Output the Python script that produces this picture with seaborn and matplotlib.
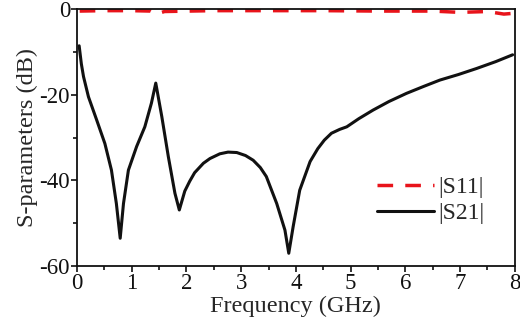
import matplotlib
matplotlib.use("Agg")
import matplotlib.pyplot as plt
import seaborn as sns
import pandas as pd
from matplotlib.ticker import MultipleLocator

freq_s21 = [0.04, 0.08, 0.12, 0.21, 0.36, 0.51, 0.63, 0.72, 0.79, 0.85, 0.94, 1.09, 1.24, 1.36, 1.44,
            1.55, 1.67, 1.79, 1.87, 1.97, 2.06, 2.15, 2.31, 2.43, 2.61, 2.76, 2.92, 3.08, 3.22, 3.35,
            3.46, 3.65, 3.80, 3.87, 3.95, 4.07, 4.26, 4.40, 4.52, 4.65, 4.80, 4.93, 5.15, 5.41,
            5.70, 6.02, 6.33, 6.63, 6.97, 7.30, 7.65, 7.96]
s21 = [-8.6, -12.8, -15.8, -20.5, -25.9, -31.4, -37.6, -45.4, -53.5, -45.4, -37.6, -32.1, -27.5,
       -22.0, -17.3, -25.1, -34.5, -43.0, -46.9, -42.5, -40.2, -38.2, -36.0, -34.9, -33.8, -33.4,
       -33.5, -34.2, -35.3, -37.0, -39.1, -45.4, -51.6, -57.0, -50.8, -42.3, -35.6, -32.6, -30.6,
       -29.0, -28.1, -27.5, -25.6, -23.6, -21.6, -19.7, -18.1, -16.6, -15.3, -13.9, -12.3, -10.7]

freq_s11 = [0.05, 0.5, 1.0, 1.35, 1.45, 1.6, 2.5, 3.5, 4.5, 5.5, 6.5, 7.0, 7.5, 7.8, 8.0]
s11 = [-0.5, -0.4, -0.4, -0.5, -1.2, -0.6, -0.4, -0.4, -0.4, -0.5, -0.5, -0.8, -0.6, -1.2, -1.0]

sns.set_theme(style="ticks")
plt.rcParams['font.family'] = ['Liberation Serif', 'DejaVu Serif']
plt.rcParams['axes.unicode_minus'] = False

fig = plt.figure(figsize=(5.2, 3.31), dpi=100)
ax = fig.add_axes([0.148, 0.196, 0.842, 0.777])

df11 = pd.DataFrame({"f": freq_s11, "v": s11})
df21 = pd.DataFrame({"f": freq_s21, "v": s21})
sns.lineplot(data=df11, x="f", y="v", ax=ax, color="#e8141b", lw=2.5,
             label="|S11|", sort=False)
ax.lines[-1].set_dashes((4.5, 3.5))
sns.lineplot(data=df21, x="f", y="v", ax=ax, color="#111111", lw=2.2,
             label="|S21|", sort=False)

ax.set_xlim(0, 8)
ax.set_ylim(-60, 0)
ax.xaxis.set_major_locator(MultipleLocator(1))
ax.xaxis.set_minor_locator(MultipleLocator(0.5))
ax.yaxis.set_major_locator(MultipleLocator(20))
ax.yaxis.set_minor_locator(MultipleLocator(10))
ax.tick_params(which="major", direction="out", length=4, width=1.2, labelsize=16.5, pad=1, colors="#111111")
ax.tick_params(which="minor", direction="out", length=3, width=1.2, colors="#111111")
for s in ax.spines.values():
    s.set_linewidth(1.3)
    s.set_color("#111111")
ax.set_xlabel("Frequency (GHz)", fontsize=17.5, labelpad=1)
ax.set_ylabel("S-parameters (dB)", fontsize=17.5, labelpad=1)

leg = ax.legend(loc="lower right", bbox_to_anchor=(0.98, 0.08), frameon=False, fontsize=17,
                handlelength=2.4, handletextpad=0.2, labelspacing=0.2)

fig.savefig("out.png", dpi=100)
